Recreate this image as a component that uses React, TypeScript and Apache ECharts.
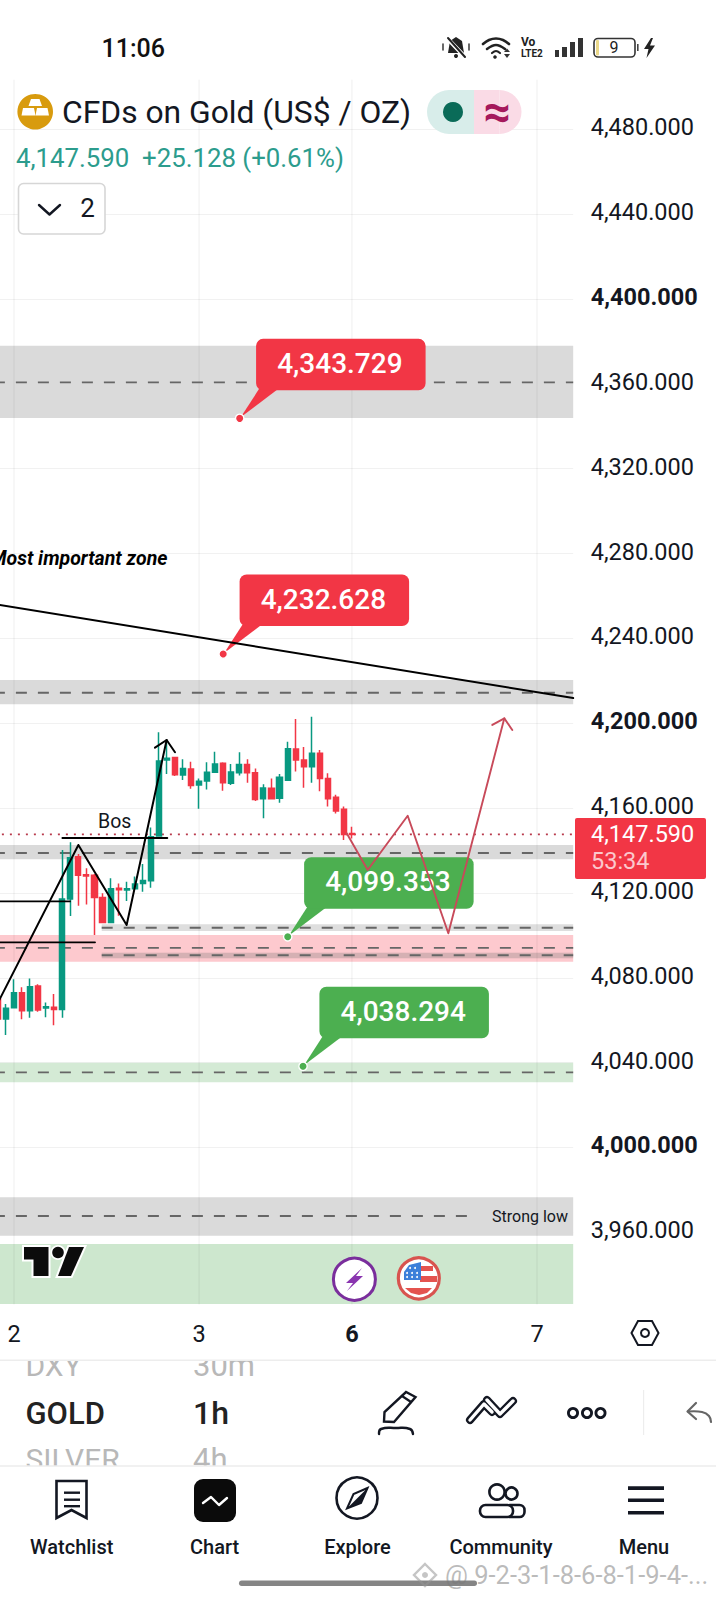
import React, { useEffect, useRef } from "react";
import * as echarts from "echarts";

const FONT = "Roboto";
const UP = "#089981";
const DOWN = "#F23645";

// Candles: [open, close, low, high]
const candles: number[][] = [
  [4070.0, 4060.6, 4059.3, 4071.1],
  [4060.6, 4065.6, 4053.0, 4067.6],
  [4065.9, 4073.0, 4065.9, 4079.3],
  [4073.0, 4064.5, 4060.4, 4075.5],
  [4064.5, 4075.8, 4061.2, 4079.7],
  [4076.1, 4064.8, 4064.0, 4076.9],
  [4065.75, 4066.4, 4061.35, 4068.4],
  [4066.1, 4065.1, 4057.6, 4072.35],
  [4065.1, 4117.1, 4061.2, 4140.2],
  [4117.1, 4136.6, 4109.1, 4143.85],
  [4137.1, 4128.3, 4114.0, 4138.35],
  [4128.6, 4128.0, 4114.6, 4131.6],
  [4128.3, 4117.9, 4100.2, 4128.9],
  [4117.9, 4106.1, 4105.7, 4119.8],
  [4106.1, 4122.0, 4106.0, 4126.9],
  [4122.2, 4121.5, 4109.3, 4124.5],
  [4121.4, 4122.0, 4116.2, 4125.3],
  [4122.0, 4124.2, 4122.0, 4127.7],
  [4124.5, 4125.9, 4120.6, 4133.6],
  [4125.8, 4146.5, 4122.5, 4150.9],
  [4146.8, 4182.2, 4146.5, 4195.7],
  [4182.7, 4183.45, 4176.1, 4190.8],
  [4183.9, 4175.75, 4175.1, 4184.2],
  [4175.6, 4178.7, 4173.2, 4183.0],
  [4178.4, 4170.6, 4169.15, 4181.9],
  [4170.9, 4172.6, 4159.7, 4174.0],
  [4172.8, 4176.85, 4168.8, 4181.6],
  [4176.85, 4180.8, 4176.85, 4186.6],
  [4181.1, 4172.0, 4168.2, 4181.6],
  [4171.7, 4177.0, 4170.9, 4180.8],
  [4176.7, 4180.5, 4175.4, 4186.3],
  [4180.6, 4176.7, 4172.0, 4183.0],
  [4176.7, 4164.1, 4163.3, 4178.7],
  [4164.4, 4169.5, 4155.2, 4171.2],
  [4169.3, 4164.4, 4164.4, 4174.0],
  [4164.6, 4174.5, 4162.55, 4176.1],
  [4173.1, 4188.0, 4172.8, 4191.3],
  [4187.85, 4182.7, 4177.2, 4202.0],
  [4182.7, 4179.5, 4169.6, 4188.8],
  [4179.5, 4185.8, 4172.0, 4203.1],
  [4185.8, 4173.9, 4167.9, 4187.4],
  [4174.0, 4164.4, 4160.8, 4176.4],
  [4165.1, 4158.6, 4157.5, 4166.3],
  [4159.4, 4147.6, 4144.95, 4160.7],
  [4148.0, 4147.59, 4145.7, 4151.2],
];

const BAR_SLOTS = 72;
const categories: string[] = Array.from({ length: BAR_SLOTS }, (_, i) => String(i));
const dayIndex = [2, 25, 44, 67];
const dayLabels = ["2", "3", "6", "7"];
const boldDay = "6";
const boldPrices = [4400, 4200, 4000];

// Zones, in (bar position, price)
const zoneStart = [0, 0, 0, 13.4, 0, 13.4, 0, 0, 0];
const zoneEnd = [72, 72, 72, 72, 72, 72, 72, 72, 72];
const zoneTop = [4377.9, 4220.4, 4142.6, 4105.2, 4100.2, 4091.8, 4040.0, 3976.5, 3954.5];
const zoneBottom = [4343.9, 4209.0, 4135.9, 4102.1, 4087.6, 4089.2, 4030.7, 3958.4, 3926.2];
const zoneColors = ["#DADADA", "#DADADA", "#DADADA", "#DEDEDE", "#FDC9CE", "rgba(110,110,110,0.28)", "#D4EAD5", "#DADADA", "#CDE7CE"];

const dashStart = [0, 0, 0, 13.4, 0, 13.4, 0, 0];
const dashEnd = [72, 72, 72, 72, 72, 72, 72, 59.9];
const dashPrice = [4360.7, 4214.4, 4138.8, 4103.6, 4094.1, 4090.6, 4035.4, 3967.7];

const lastPrice = 4147.59;

// Callouts
const calloutBar = [30.55, 28.5, 36.52, 38.42];
const calloutPrice = [4343.729, 4232.628, 4099.353, 4038.294];
const calloutColor = [DOWN, DOWN, "#4CAF50", "#4CAF50"];

// Hand-drawn lines, as [bar position, price]
const trendLine = [[0, 4256.2], [72, 4211.9]];
const zigzag = [[0, 4064.5], [10.5, 4142.6], [16.5, 4104.9], [21.47, 4192.1]];
const zigzagHead = [[20.02, 4188.5], [21.47, 4192.1], [22.51, 4186.3]];
const levelA = [[0, 4116.0], [9.46, 4116.0]];
const levelB = [[0, 4096.7], [12.57, 4096.7]];
const bosLine = [[8.51, 4145.9], [21.56, 4145.9]];
const redPath = [[43.85, 4148.1], [46.46, 4130.8], [51.43, 4156.4], [56.48, 4101.0], [63.44, 4202.3]];
const redHead = [[61.95, 4199.2], [63.44, 4202.3], [64.43, 4196.8]];

const fmt3 = (v: number) =>
  v.toLocaleString("en-US", { minimumFractionDigits: 3, maximumFractionDigits: 3 });

function txt(text: string, x: number, y: number, size: number, fill = "#131722", extra: any = {}) {
  const { align = "left", weight = 400, style: st = "normal", z = 20 } = extra;
  return {
    type: "text",
    z,
    style: { text, x, y, fill, fontFamily: FONT, fontSize: size, fontWeight: weight, fontStyle: st, align, verticalAlign: "middle" },
  };
}
const poly = (points: number[][], fill: string, z = 20, extra: any = {}) => ({
  type: "polygon", z, shape: { points }, style: { fill, ...extra },
});
const pline = (points: number[][], stroke: string, lineWidth = 2, z = 20, smooth = 0) => ({
  type: "polyline", z, shape: { points, smooth }, style: { stroke, lineWidth, fill: "none", lineCap: "round", lineJoin: "round" },
});
const rect = (x: number, y: number, width: number, height: number, fill: string, r = 0, z = 20, extra: any = {}) => ({
  type: "rect", z, shape: { x, y, width, height, r }, style: { fill, ...extra },
});
const circ = (cx: number, cy: number, r: number, fill: string, stroke?: string, lineWidth = 0, z = 20) => ({
  type: "circle", z, shape: { cx, cy, r }, style: { fill, stroke, lineWidth },
});

function chrome(): any[] {
  const g: any[] = [];
  // status bar
  g.push(txt("11:06", 101.5, 48.5, 25, "#111", { weight: 500 }));
  // muted bell
  g.push(poly([[450, 41], [456, 37], [462, 41], [464, 53], [448, 53]], "#222"));
  g.push(circ(456, 56, 2, "#222"));
  g.push(pline([[447, 38], [466, 58]], "#fff", 4));
  g.push(pline([[448, 38], [465, 57]], "#222", 2));
  g.push(pline([[443, 44], [443, 50]], "#444", 1.6));
  g.push(pline([[469, 44], [469, 50]], "#444", 1.6));
  // wifi
  g.push(pline([[483, 44], [489, 40], [496, 38.5], [503, 40], [509, 44]], "#222", 2.6, 20, 0.4));
  g.push(pline([[487, 49], [496, 45], [505, 49]], "#222", 2.6, 20, 0.4));
  g.push(pline([[492, 53], [496, 51], [500, 53]], "#222", 2.2, 20, 0.4));
  g.push(circ(495, 57, 1.8, "#222"));
  g.push(poly([[504, 52], [510, 52], [507, 48.5]], "#333"));
  g.push(poly([[504, 54], [510, 54], [507, 58]], "#333"));
  // VoLTE
  g.push(txt("Vo", 521, 41.5, 12, "#222", { weight: 700 }));
  g.push(txt("LTE2", 521, 53, 10, "#222", { weight: 700 }));
  // signal
  g.push(rect(555, 50, 4, 7, "#333"));
  g.push(rect(562, 47, 5, 10, "#333"));
  g.push(rect(570, 42, 5, 15, "#333"));
  g.push(rect(578, 38, 5, 19, "#333"));
  // battery
  g.push(rect(594, 38.5, 41, 18.5, "#fff", 4, 20, { stroke: "#333", lineWidth: 1.6 }));
  g.push(rect(596, 40, 3, 15.5, "#EBD98A", 1));
  g.push(txt("9", 614, 47.5, 16, "#222", { align: "center" }));
  g.push(rect(637, 44, 1.6, 7, "#444"));
  g.push(poly([[651, 38], [644, 49], [648.5, 49], [646.5, 58], [655, 45.5], [650, 45.5], [653, 38]], "#222"));

  // symbol header
  g.push(circ(35.2, 111.7, 17.8, "#D89B0E"));
  g.push(poly([[31, 99], [39.5, 99], [42, 106], [28.5, 106]], "#fff"));
  g.push(poly([[23, 108], [34, 108], [35.5, 115.5], [21.5, 115.5]], "#fff"));
  g.push(poly([[37, 108], [47.5, 108], [49, 115.5], [35.5, 115.5]], "#fff"));
  g.push(txt("CFDs on Gold (US$ / OZ)", 62, 112, 31.8, "#131722"));
  g.push({ type: "sector", z: 20, shape: { cx: 449, cy: 112, r: 22, r0: 0, startAngle: Math.PI / 2, endAngle: Math.PI * 1.5 }, style: { fill: "#D8EDEA" } });
  g.push(rect(449, 90, 25, 44, "#D8EDEA"));
  g.push(rect(474, 90, 25.5, 44, "#FADBE6"));
  g.push({ type: "sector", z: 20, shape: { cx: 499.5, cy: 112, r: 22, r0: 0, startAngle: -Math.PI / 2, endAngle: Math.PI / 2 }, style: { fill: "#FADBE6" } });
  g.push(circ(453, 112, 10, "#0A6B58"));
  g.push(txt("≈", 497, 111, 48, "#A5195C", { align: "center", weight: 700 }));
  g.push(txt("4,147.590", 16, 158, 25.8, "#2C9C8D"));
  g.push(txt("+25.128 (+0.61%)", 142, 158, 25.8, "#2C9C8D"));
  g.push(rect(18.5, 183.5, 86.5, 50.5, "#fff", 5, 20, { stroke: "#D6D6D6", lineWidth: 1.6 }));
  g.push(pline([[39, 205], [49.5, 214.5], [60, 205]], "#131722", 2.4));
  g.push(txt("2", 87.5, 208, 26, "#131722", { align: "center" }));

  // chart annotations
  g.push(txt("Most important zone", 167.5, 558.7, 19.5, "#000", { align: "right", weight: 700, style: "italic", z: 12 }));
  g.push(txt("Bos", 98, 821.7, 19.5, "#131722", { z: 12 }));
  g.push(txt("Strong low", 492, 1216, 16, "#131722", { z: 12 }));

  // TradingView logo
  const logoT = [[24, 1247], [48.5, 1247], [48.5, 1276], [33.5, 1276], [33.5, 1259.5], [24, 1259.5]];
  const logoS = [[69, 1247], [84, 1247], [71, 1276], [58, 1276]];
  g.push(poly(logoT, "#fff", 12, { stroke: "#fff", lineWidth: 4 }));
  g.push(poly(logoS, "#fff", 12, { stroke: "#fff", lineWidth: 4 }));
  g.push(circ(58, 1252.5, 6, "#fff", "#fff", 3, 12));
  g.push(poly(logoT, "#0c0c0c", 13));
  g.push(poly(logoS, "#0c0c0c", 13));
  g.push(circ(58, 1252.5, 5.8, "#0c0c0c", undefined, 0, 13));

  // event icons
  g.push(circ(354.4, 1279.3, 21, "#fff", "#7A2E9C", 3, 12));
  g.push(poly([[362, 1268], [346, 1283], [353, 1283], [347, 1291], [363, 1276], [356, 1276]], "#8A35B0", 12));
  g.push(circ(418.8, 1278.3, 20.5, "#fff", "#D8544F", 3.2, 12));
  g.push(rect(420, 1266, 13, 5, "#E4534F", 0, 12));
  g.push(rect(420, 1276, 17, 6, "#E4534F", 0, 12));
  g.push(poly([[405, 1288], [432, 1288], [427, 1293], [419, 1295], [411, 1293]], "#E4534F", 12));
  g.push(poly([[404, 1280], [404, 1272], [409, 1265], [421, 1262], [421, 1280]], "#3C7FD9", 12));
  for (const [a, b] of [[410, 1268], [415, 1268], [407, 1273], [412, 1273], [417, 1273], [407, 1277], [412, 1277], [417, 1277]]) {
    g.push(circ(a, b, 1, "#fff", undefined, 0, 13));
  }

  // settings hexagon beside the time axis
  g.push(poly([[631.5, 1333], [638, 1321], [652, 1321], [658.5, 1333], [652, 1345], [638, 1345]], "none", 20, { stroke: "#131722", lineWidth: 2 }));
  g.push(circ(645, 1333, 4, "none", "#131722", 2));

  // toolbar
  g.push(txt("DXY", 25.5, 1365.5, 30, "#B8B8B8"));
  g.push(txt("30m", 193, 1365.5, 31, "#B8B8B8"));
  g.push(txt("SILVER", 25.5, 1459, 30, "#B8B8B8"));
  g.push(txt("4h", 193, 1459, 31, "#B8B8B8"));
  g.push(rect(0, 1346, 716, 14.5, "#fff", 0, 21));
  g.push(rect(0, 1466, 716, 14, "#fff", 0, 21));
  g.push(rect(0, 1359.5, 716, 1.6, "#EDEDED", 0, 22));
  g.push(rect(0, 1465.2, 716, 1.6, "#EDEDED", 0, 22));
  g.push(txt("GOLD", 25.5, 1413, 31, "#222", { weight: 500 }));
  g.push(txt("1h", 193, 1413, 32, "#222", { weight: 500 }));
  // pencil
  g.push(poly([[384, 1421.5], [384.5, 1412], [406, 1392], [415.5, 1397], [394, 1422]], "#fff", 22, { stroke: "#131722", lineWidth: 2.4 }));
  g.push(pline([[402, 1396], [411, 1402]], "#131722", 2.2, 23));
  g.push(pline([[379, 1434], [381, 1429], [396, 1428], [410, 1429], [413, 1434]], "#131722", 2.4, 23, 0.5));
  // drawings icon
  g.push(pline([[470, 1420], [484, 1404], [492, 1412]], "#131722", 8, 22));
  g.push(pline([[470, 1420], [484, 1404], [492, 1412]], "#fff", 3.4, 23));
  g.push(pline([[487, 1400], [500, 1414], [513, 1401]], "#131722", 8, 22));
  g.push(pline([[487, 1400], [500, 1414], [513, 1401]], "#fff", 3.4, 23));
  // more
  for (const cx of [573, 587, 600.5]) g.push(circ(cx, 1413, 4.6, "#fff", "#131722", 2.8, 22));
  g.push(rect(643, 1390, 1.2, 45, "#EDEDED", 0, 22));
  // undo
  g.push(pline([[696, 1403], [687.5, 1411.5], [696, 1419]], "#666", 2.2, 22));
  g.push(pline([[688, 1411.5], [702, 1412], [709, 1416], [711, 1422]], "#666", 2.2, 22, 0.4));

  // bottom navigation
  g.push(poly([[56.5, 1481], [86.5, 1481], [86.5, 1518], [71.5, 1510], [56.5, 1518]], "#fff", 22, { stroke: "#131722", lineWidth: 2.6 }));
  for (const y of [1491.5, 1498.5, 1505]) g.push(rect(64, y, 16, 2.4, "#131722", 0, 22));
  g.push(rect(194, 1479, 42, 43, "#0B0B0B", 9, 22));
  g.push(pline([[203, 1503], [211, 1497], [219, 1505], [227, 1498]], "#fff", 2.4, 23));
  g.push(circ(357, 1498, 20.5, "#fff", "#131722", 2.6, 22));
  g.push(poly([[367.5, 1488], [361, 1503], [347, 1508.5], [353.5, 1494]], "none", 23, { stroke: "#131722", lineWidth: 2 }));
  g.push(poly([[367.5, 1488], [361, 1503], [347, 1508.5]], "#131722", 23));
  g.push(circ(497, 1492, 7.6, "#fff", "#131722", 2.6, 22));
  g.push(circ(511.5, 1493.5, 6, "#fff", "#131722", 2.6, 22));
  g.push(rect(505, 1505, 19.5, 12, "#fff", 5, 22, { stroke: "#131722", lineWidth: 2.6 }));
  g.push(rect(480, 1505, 33, 12, "#fff", 5.5, 23, { stroke: "#131722", lineWidth: 2.6 }));
  for (const y of [1486.3, 1498.5, 1511]) g.push(rect(628, y, 36, 3.6, "#131722", 0, 22));
  const navText: [string, number][] = [["Watchlist", 71.7], ["Chart", 214.6], ["Explore", 357.5], ["Community", 501], ["Menu", 644]];
  for (const [s, x] of navText) g.push(txt(s, x, 1547, 20, "#131722", { align: "center", weight: 500, z: 22 }));
  g.push(rect(239, 1580.5, 238, 5.4, "#858585", 2.7, 22));
  // watermark
  g.push(poly([[425, 1564], [436, 1575], [425, 1586], [414, 1575]], "none", 23, { stroke: "rgba(150,150,150,0.55)", lineWidth: 2.4 }));
  g.push(circ(425, 1575, 3, "rgba(150,150,150,0.55)", undefined, 0, 23));
  g.push(txt("@ 9-2-3-1-8-6-8-1-9-4-...", 445, 1575, 25.5, "rgba(120,120,120,0.5)", { z: 23 }));

  // last price tag
  g.push(rect(575, 818, 131, 61, "#F23645", 2, 25));
  g.push(txt("4,147.590", 591, 833.5, 23.5, "#FFFFFF", { z: 26 }));
  g.push(txt("53:34", 591, 861, 23.5, "#FBC8CD", { z: 26 }));
  return g;
}

export default function App() {
  const ref = useRef<HTMLDivElement>(null);
  useEffect(() => {
    document.body.style.margin = "0";
    document.body.style.background = "#fff";
    const chart = echarts.init(ref.current!, undefined, { renderer: "svg" });

    // the chart's plot runs off the left of the phone screen, so the canvas starts left of the page
    const BLEED = 20;
    const GRID_LEFT = BLEED - 6.115;
    const GRID_W = 72 * 8.046;
    const GRID_TOP = 44.45;
    const GRID_H = 600 * 2.1212;

    const overlay = (data: number[][], color: string, width: number, z: number, dash?: any) => ({
      type: "line",
      xAxisIndex: 1,
      yAxisIndex: 0,
      data,
      z,
      symbol: "none",
      silent: true,
      clip: true,
      lineStyle: { color, width, type: dash || "solid", cap: dash ? "butt" : "round", join: "round" },
    });

    const option: any = {
      animation: false,
      backgroundColor: "#fff",
      textStyle: { fontFamily: FONT },
      grid: { left: GRID_LEFT, top: GRID_TOP, width: GRID_W, height: GRID_H, containLabel: false },
      xAxis: [
        {
          type: "category",
          data: categories,
          boundaryGap: true,
          axisLine: { show: false },
          axisTick: { show: false },
          splitLine: { show: false },
          axisLabel: {
            margin: 5,
            interval: 0,
            hideOverlap: false,
            showMinLabel: true,
            showMaxLabel: true,
            formatter: (_: string, i: number) => {
              const k = dayIndex.indexOf(i);
              if (k < 0) return "";
              return dayLabels[k] === boldDay ? `{b|${dayLabels[k]}}` : `{n|${dayLabels[k]}}`;
            },
            rich: {
              n: { fontFamily: FONT, fontSize: 23.5, color: "#131722" },
              b: { fontFamily: FONT, fontSize: 23.5, fontWeight: 700, color: "#131722" },
            },
          },
        },
        { type: "value", min: 0, max: BAR_SLOTS, show: false, splitLine: { show: false } },
      ],
      yAxis: {
        type: "value",
        position: "right",
        min: 3920,
        max: 4520,
        interval: 40,
        axisLine: { show: false },
        axisTick: { show: false },
        splitLine: { show: true, showMinLine: false, showMaxLine: false, lineStyle: { color: "rgba(0,0,0,0.055)", width: 1.2 } },
        axisLabel: {
          margin: 17.5,
          showMinLabel: false,
          showMaxLabel: false,
          align: "left",
          formatter: (v: number) => (boldPrices.includes(v) ? `{b|${fmt3(v)}}` : `{n|${fmt3(v)}}`),
          rich: {
            n: { fontFamily: FONT, fontSize: 23.5, color: "#131722", padding: [0, 0, 4, 0] },
            b: { fontFamily: FONT, fontSize: 23.5, fontWeight: 700, color: "#131722", padding: [0, 0, 4, 0] },
          },
        },
      },
      series: [
        {
          type: "custom",
          xAxisIndex: 1,
          yAxisIndex: 0,
          z: 1,
          silent: true,
          data: zoneStart.map((s, i) => [s, zoneEnd[i], zoneTop[i], zoneBottom[i]]),
          encode: { x: [0, 1], y: [2, 3] },
          renderItem: (params: any, api: any) => {
            const a = api.coord([api.value(0), api.value(2)]);
            const b = api.coord([api.value(1), api.value(3)]);
            return {
              type: "rect",
              shape: { x: a[0], y: a[1], width: b[0] - a[0], height: b[1] - a[1] },
              style: { fill: zoneColors[params.dataIndex] },
            };
          },
        },
        ...dayIndex.map((d) => overlay([[d + 0.5, 3926.2], [d + 0.5, 4503.2]], "rgba(0,0,0,0.055)", 1.2, 1.5)),
        ...dashPrice.map((p, i) => overlay([[dashStart[i], p], [dashEnd[i], p]], "#666666", 1.9, 2, [11, 11])),
        overlay([[0, lastPrice], [BAR_SLOTS, lastPrice]], "#B83A4C", 1.8, 2.5, [2, 6]),
        {
          type: "candlestick",
          xAxisIndex: 0,
          yAxisIndex: 0,
          z: 3,
          silent: true,
          barWidth: 5.6,
          data: candles,
          itemStyle: { color: UP, color0: DOWN, borderColor: UP, borderColor0: DOWN, borderWidth: 1.5 },
        },
        {
          type: "custom",
          xAxisIndex: 1,
          yAxisIndex: 0,
          z: 4,
          silent: true,
          clip: false,
          data: calloutBar.map((b, i) => [b, calloutPrice[i]]),
          encode: { x: 0, y: 1 },
          renderItem: (params: any, api: any) => {
            const [x, y] = api.coord([api.value(0), api.value(1)]);
            const i = params.dataIndex;
            const color = calloutColor[i];
            const top = y - 79.5;
            return {
              type: "group",
              children: [
                { type: "polygon", shape: { points: [[x + 1, y - 1], [x + 21, y - 32], [x + 42, y - 32]] }, style: { fill: color } },
                { type: "rect", shape: { x: x + 16.4, y: top, width: 169.5, height: 51.5, r: 7 }, style: { fill: color } },
                { type: "circle", shape: { cx: x, cy: y, r: 4.2 }, style: { fill: color, stroke: "#fff", lineWidth: 1.4 } },
                {
                  type: "text",
                  style: {
                    text: fmt3(calloutPrice[i]),
                    x: x + 100.2,
                    y: top + 24.5,
                    fill: "#fff",
                    fontFamily: FONT,
                    fontSize: 28,
                    fontWeight: 500,
                    align: "center",
                    verticalAlign: "middle",
                  },
                },
              ],
            };
          },
        },
        overlay(trendLine, "#000", 2, 5),
        overlay(zigzag, "#000", 2, 5),
        overlay(zigzagHead, "#000", 2, 5),
        overlay(levelA, "#000", 1.8, 5),
        overlay(levelB, "#000", 1.8, 5),
        overlay(bosLine, "#000", 1.8, 5),
        overlay(redPath, "#C84A5A", 1.9, 5),
        overlay(redHead, "#C84A5A", 1.9, 5),
      ],
      graphic: { elements: chrome().map((el) => ({ ...el, x: BLEED })) },
    };
    chart.setOption(option);
    return () => chart.dispose();
  }, []);
  return (
    <div style={{ width: 716, height: 1600, position: "relative", overflow: "hidden" }}>
      <div ref={ref} style={{ position: "absolute", left: -20, top: 0, width: 736, height: 1600 }} />
    </div>
  );
}
